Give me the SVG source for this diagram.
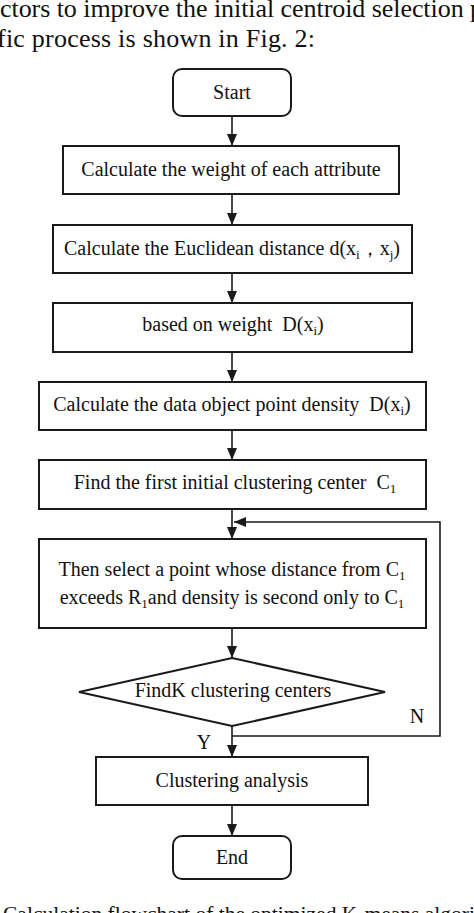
<svg xmlns="http://www.w3.org/2000/svg" width="474" height="913" viewBox="0 0 474 913">
  <defs>
    <style>
      .box { fill: #fff; stroke: #1a1a1a; stroke-width: 2; }
      .conn { fill: none; stroke: #1a1a1a; stroke-width: 1.6; }
      .t { font-family: "Liberation Serif", "Times New Roman", serif; font-size: 20px; fill: #111; text-anchor: middle; }
      .body { font-family: "Liberation Serif", "Times New Roman", serif; fill: #111; }
      .sub { font-size: 13px; }
    </style>
    <marker id="arr" viewBox="0 0 12 10" refX="12" refY="5" markerWidth="12" markerHeight="10" markerUnits="userSpaceOnUse" orient="auto">
      <path d="M0,0 L12,5 L0,10 z" fill="#1a1a1a"/>
    </marker>
  </defs>
  <rect width="474" height="913" fill="#fff"/>

  <text class="body" x="0" y="17" font-size="26" textLength="483" lengthAdjust="spacing">ctors to improve the initial centroid selection p</text>
  <text class="body" x="-3" y="47" font-size="26" textLength="318" lengthAdjust="spacing">fic process is shown in Fig. 2:</text>

  <g id="connectors">
    <line class="conn" x1="232" y1="116" x2="232" y2="146" marker-end="url(#arr)"/>
    <line class="conn" x1="232" y1="194" x2="232" y2="225" marker-end="url(#arr)"/>
    <line class="conn" x1="232" y1="273" x2="232" y2="303" marker-end="url(#arr)"/>
    <line class="conn" x1="232" y1="352" x2="232" y2="382" marker-end="url(#arr)"/>
    <line class="conn" x1="232" y1="430" x2="232" y2="460" marker-end="url(#arr)"/>
    <line class="conn" x1="232" y1="509" x2="232" y2="539" marker-end="url(#arr)"/>
    <line class="conn" x1="232" y1="628" x2="232" y2="658" marker-end="url(#arr)"/>
    <line class="conn" x1="232" y1="726" x2="232" y2="757" marker-end="url(#arr)"/>
    <line class="conn" x1="232" y1="805" x2="232" y2="836" marker-end="url(#arr)"/>
    <path class="conn" d="M232,736 H440 V522 H234" marker-end="url(#arr)"/>
    <text class="t" x="204" y="749">Y</text>
    <text class="t" x="417" y="723">N</text>
  </g>

  <g id="start">
    <rect class="box" x="173" y="69" width="118" height="47" rx="9"/>
    <text class="t" x="232" y="99">Start</text>
  </g>

  <g id="weight">
    <rect class="box" x="63" y="146" width="336" height="48"/>
    <text class="t" x="231" y="176">Calculate the weight of each attribute</text>
  </g>

  <g id="euclid">
    <rect class="box" x="53" y="225" width="359" height="48"/>
    <text class="t" x="232" y="255">Calculate the Euclidean distance d(x<tspan class="sub" dy="4">i</tspan><tspan dy="-4">，x</tspan><tspan class="sub" dy="4">j</tspan><tspan dy="-4">)</tspan></text>
  </g>

  <g id="based">
    <rect class="box" x="53" y="303" width="359" height="49"/>
    <text class="t" x="233" y="331">based on weight&#160; D(x<tspan class="sub" dy="4">i</tspan><tspan dy="-4">)</tspan></text>
  </g>

  <g id="density">
    <rect class="box" x="39" y="382" width="387" height="48"/>
    <text class="t" x="232" y="411">Calculate the data object point density&#160; D(x<tspan class="sub" dy="4">i</tspan><tspan dy="-4">)</tspan></text>
  </g>

  <g id="first">
    <rect class="box" x="39" y="460" width="387" height="49"/>
    <text class="t" x="235" y="489">Find the first initial clustering center&#160; C<tspan class="sub" dy="4">1</tspan></text>
  </g>

  <g id="select">
    <rect class="box" x="39" y="539" width="387" height="89"/>
    <text class="t" x="232" y="576">Then select a point whose distance from C<tspan class="sub" dy="4">1</tspan></text>
    <text class="t" x="232" y="604">exceeds R<tspan class="sub" dy="4">1</tspan><tspan dy="-4">and density is second only to C</tspan><tspan class="sub" dy="4">1</tspan></text>
  </g>

  <g id="findk">
    <polygon class="box" points="232,658 385,692 232,726 79,692"/>
    <text class="t" x="233" y="697">FindK clustering centers</text>
  </g>

  <g id="analysis">
    <rect class="box" x="96" y="757" width="272" height="48"/>
    <text class="t" x="232" y="787">Clustering analysis</text>
  </g>

  <g id="end">
    <rect class="box" x="173" y="836" width="118" height="43" rx="9"/>
    <text class="t" x="232" y="864">End</text>
  </g>

  <text class="body" x="3" y="921" font-size="21.5" textLength="472" lengthAdjust="spacing">Calculation flowchart of the optimized K-means algori</text>
</svg>
